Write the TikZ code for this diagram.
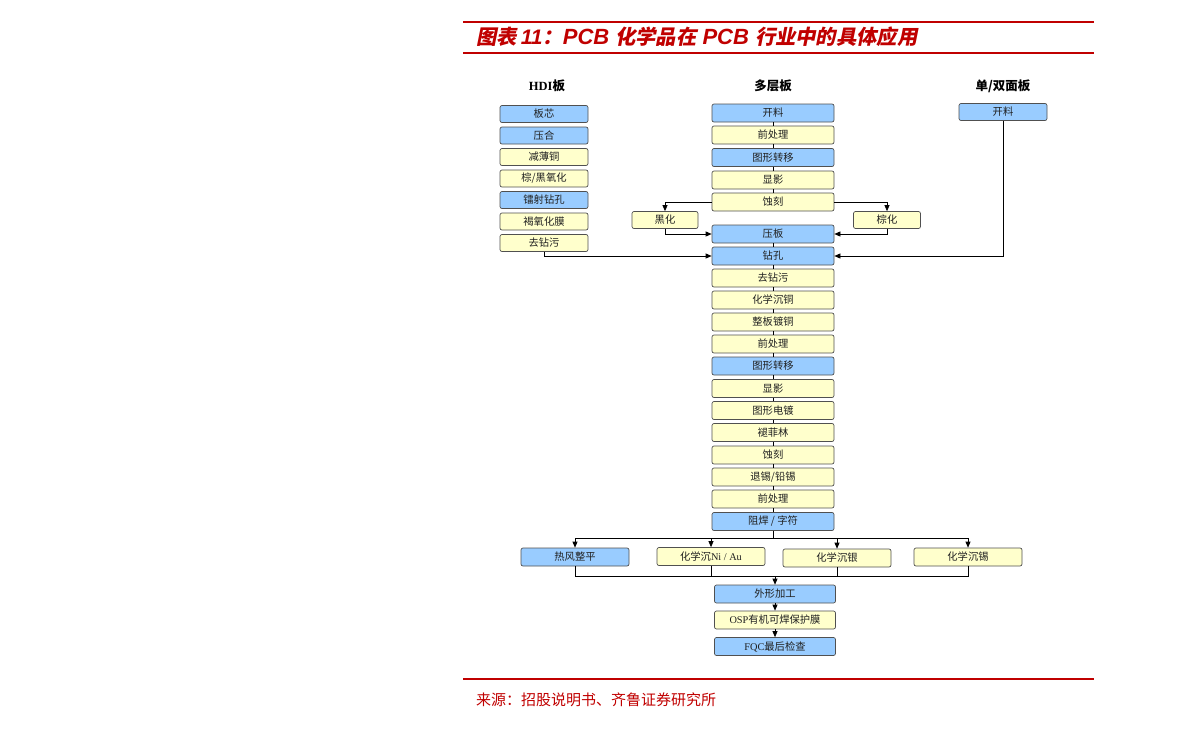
\documentclass[tikz,border=0pt]{standalone}
\usepackage{fontspec}
\usetikzlibrary{arrows.meta}
\newfontfamily\cjk{Noto Sans CJK SC}
\newfontfamily\cjksl[FakeSlant=0.2]{Noto Sans CJK SC}
\newfontfamily\latsans{Liberation Sans}
\newfontfamily\latserif{Liberation Serif}
\definecolor{redc}{HTML}{C00000}
\definecolor{bluefill}{HTML}{99CCFF}
\definecolor{yelfill}{HTML}{FFFFCC}
\definecolor{boxline}{HTML}{505050}
\definecolor{textc}{HTML}{202020}
\tikzset{
  box/.style={draw=boxline, line width=0.7pt, rounded corners=2pt, minimum height=18pt, inner sep=0pt, text=textc, font=\cjk\fontsize{10.3}{11}\selectfont},
  bluebox/.style={box, fill=bluefill},
  yelbox/.style={box, fill=yelfill},
  mid/.style={minimum width=122pt},
  hdi/.style={minimum width=88pt, minimum height=17pt},
  fin/.style={minimum width=108pt},
  conn/.style={line width=0.7pt, black},
  arr/.style={conn, -{Triangle[length=6pt,width=5pt]}},
  head/.style={font=\cjk\bfseries\fontsize{12.5}{13}\selectfont, text=black},
  redline/.style={draw=redc}
}
\begin{document}
\begin{tikzpicture}[x=1pt,y=-1pt]
\useasboundingbox (0,0) rectangle (1191,729);
% title
\draw[redline, line width=2.2pt] (463,22) -- (1094,22);
\draw[redline, line width=1.5pt] (463,53) -- (1094,53);
\node[anchor=west, text=redc, inner sep=0pt] (title) at (476,37)
  {\cjksl\bfseries\fontsize{20.3}{21}\selectfont 图表\hspace{4pt}{\latsans\bfseries\itshape\fontsize{21}{21}\selectfont 11}：{\latsans\bfseries\itshape\fontsize{22}{21}\selectfont PCB}\hspace{6pt}化学品在\hspace{6pt}{\latsans\bfseries\itshape\fontsize{22}{21}\selectfont PCB}\hspace{6pt}行业中的具体应用};
% footer
\draw[redline, line width=2.2pt] (463,679) -- (1094,679);
\node[anchor=west, text=redc, inner sep=0pt, font=\cjk\fontsize{15}{16}\selectfont] (src) at (476,700) {来源：招股说明书、齐鲁证券研究所};
% headers
\node[head] (hh) at (547,86) {{\latserif\bfseries HDI}板};
\node[head] (hm) at (773,86) {多层板};
\node[head] (hr) at (1003,86) {单/双面板};
% HDI column
\node[bluebox,hdi] (h1) at (544,114) {板芯};
\node[bluebox,hdi] (h2) at (544,135.5) {压合};
\node[yelbox,hdi] (h3) at (544,157) {减薄铜};
\node[yelbox,hdi] (h4) at (544,178.5) {棕/黑氧化};
\node[bluebox,hdi] (h5) at (544,200) {镭射钻孔};
\node[yelbox,hdi] (h6) at (544,221.5) {褐氧化膜};
\node[yelbox,hdi] (h7) at (544,243) {去钻污};
% right column
\node[bluebox,hdi] (r1) at (1003,112) {开料};
% middle column
\node[bluebox,mid] (m1) at (773,113) {开料};
\node[yelbox,mid] (m2) at (773,135) {前处理};
\node[bluebox,mid] (m3) at (773,157.5) {图形转移};
\node[yelbox,mid] (m4) at (773,180) {显影};
\node[yelbox,mid] (m5) at (773,202) {蚀刻};
\node[bluebox,mid] (m6) at (773,234) {压板};
\node[bluebox,mid] (m7) at (773,256) {钻孔};
\node[yelbox,mid] (m8) at (773,278) {去钻污};
\node[yelbox,mid] (m9) at (773,300) {化学沉铜};
\node[yelbox,mid] (m10) at (773,322) {整板镀铜};
\node[yelbox,mid] (m11) at (773,344) {前处理};
\node[bluebox,mid] (m12) at (773,366) {图形转移};
\node[yelbox,mid] (m13) at (773,388.5) {显影};
\node[yelbox,mid] (m14) at (773,410.5) {图形电镀};
\node[yelbox,mid] (m15) at (773,432.5) {褪菲林};
\node[yelbox,mid] (m16) at (773,455) {蚀刻};
\node[yelbox,mid] (m17) at (773,477) {退锡/铅锡};
\node[yelbox,mid] (m18) at (773,499) {前处理};
\node[bluebox,mid] (m19) at (773,521.5) {阻焊 / 字符};
% side boxes
\node[yelbox, minimum width=66pt, minimum height=17pt] (b1) at (665,220) {黑化};
\node[yelbox, minimum width=67pt, minimum height=17pt] (b2) at (887,220) {棕化};
% finishes
\node[bluebox,fin] (f1) at (575,557) {热风整平};
\node[yelbox,fin] (f2) at (711,556.5) {化学沉{\latserif Ni / Au}};
\node[yelbox,fin] (f3) at (837,558) {化学沉银};
\node[yelbox,fin] (f4) at (968,557) {化学沉锡};
% final
\node[bluebox,minimum width=121pt] (e1) at (775,594) {外形加工};
\node[yelbox,minimum width=121pt] (e2) at (775,620) {{\latserif OSP}有机可焊保护膜};
\node[bluebox,minimum width=121pt] (e3) at (775,646.5) {{\latserif FQC}最后检查};
% vertical connectors middle
\foreach \a/\b in {m1/m2,m2/m3,m3/m4,m4/m5,m6/m7,m7/m8,m8/m9,m9/m10,m10/m11,m11/m12,m12/m13,m13/m14,m14/m15,m15/m16,m16/m17,m17/m18,m18/m19}
  \draw[conn] (\a.south) -- (\b.north);
% etch branches
\draw[arr] (m5.west) -| (b1.north);
\draw[arr] (m5.east) -| (b2.north);
\draw[arr] (b1.south) |- (m6.west);
\draw[arr] (b2.south) |- (m6.east);
% HDI and single/double to drilling
\draw[arr] (h7.south) |- (m7.west);
\draw[arr] (r1.south) |- (m7.east);
% finishing branches
\coordinate (j1) at (773,538);
\coordinate (j2) at (775,576);
\draw[conn] (m19.south) -- (j1);
\draw[conn] (f1.north |- j1) -- (f4.north |- j1);
\foreach \f in {f1,f2,f3,f4} \draw[arr] (\f.north |- j1) -- (\f.north);
\draw[conn] (f1.south) -- (f1.south |- j2) -- (f4.south |- j2) -- (f4.south);
\draw[conn] (f2.south) -- (f2.south |- j2);
\draw[conn] (f3.south) -- (f3.south |- j2);
\draw[arr] (j2) -- (e1.north);
\draw[arr] (e1.south) -- (e2.north);
\draw[arr] (e2.south) -- (e3.north);
\end{tikzpicture}
\end{document}
